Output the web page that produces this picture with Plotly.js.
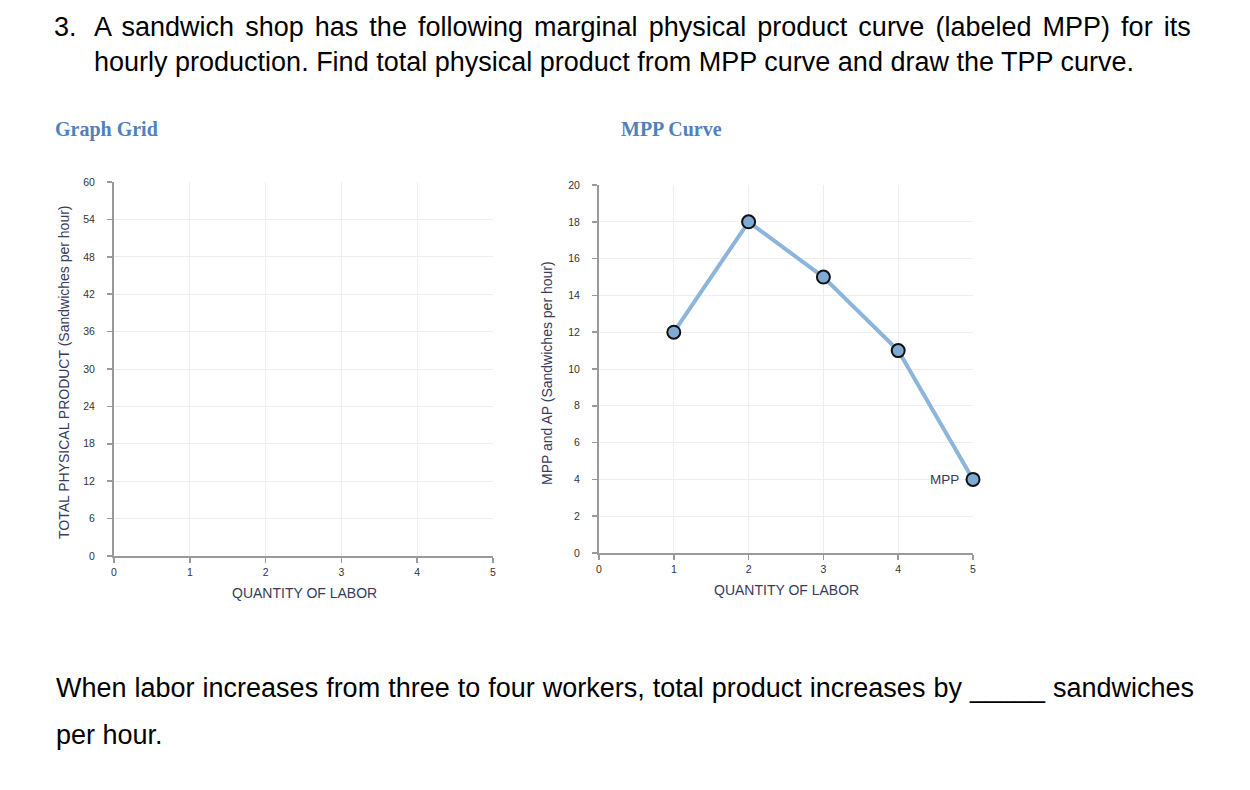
<!DOCTYPE html>
<html>
<head>
<meta charset="utf-8">
<script src="https://cdn.plot.ly/plotly-3.0.1.min.js"></script>
<style>
html,body{margin:0;padding:0;background:#fff;}
#chart{width:1250px;height:790px;}
.annotation[data-index="1"] text{word-spacing:3.55px;}
.annotation[data-index="3"] text{word-spacing:0.5px;}
</style>
</head>
<body>
<div id="chart"></div>
<script>
// Data
const labor = [1, 2, 3, 4, 5];
const mpp = [12, 18, 15, 11, 4];
const leftYTicks = [0, 6, 12, 18, 24, 30, 36, 42, 48, 54, 60];
const rightYTicks = [0, 2, 4, 6, 8, 10, 12, 14, 16, 18, 20];
const xTicks = [0, 1, 2, 3, 4, 5];
const seriesName = "MPP";

const axisCommon = {
  showline: true, linecolor: '#9a9a9a', linewidth: 2,
  ticks: 'outside', ticklen: 5, tickcolor: '#9a9a9a', tickwidth: 1.5,
  showgrid: true, gridcolor: '#eeeeee', gridwidth: 1,
  zeroline: false, tickfont: {family: 'Arial, Liberation Sans', size: 10.5, color: '#333'},
  fixedrange: true
};

const traces = [
  {
    x: [], y: [], xaxis: 'x', yaxis: 'y', type: 'scatter', mode: 'lines',
    showlegend: false, hoverinfo: 'skip'
  },
  {
    x: labor, y: mpp, xaxis: 'x2', yaxis: 'y2', type: 'scatter', mode: 'lines+markers',
    name: seriesName, showlegend: false, cliponaxis: false,
    line: {color: '#8db5dc', width: 4},
    marker: {size: 13, color: '#7faad6', line: {color: '#111', width: 2}}
  }
];

const textFont = {family: 'Arial, Liberation Sans, sans-serif', size: 27, color: '#000'};
const labFont = {family: 'Arial, Liberation Sans', size: 14, color: '#3a3a5a'};
const layout = {
  width: 1250, height: 790,
  margin: {l: 0, r: 0, t: 0, b: 0},
  paper_bgcolor: '#fff', plot_bgcolor: '#fff',
  showlegend: false,
  xaxis: Object.assign({}, axisCommon, {domain: [0.0912, 0.3944], range: [0, 5], tickvals: xTicks, ticktext: xTicks.map(String), anchor: 'y'}),
  yaxis: Object.assign({}, axisCommon, {domain: [0.2962, 0.7696], range: [0, 60], tickvals: leftYTicks, ticktext: leftYTicks.map(String), anchor: 'x', ticklabelstandoff: 10}),
  xaxis2: Object.assign({}, axisCommon, {domain: [0.4792, 0.7784], range: [0, 5], tickvals: xTicks, ticktext: xTicks.map(String), anchor: 'y2'}),
  yaxis2: Object.assign({}, axisCommon, {domain: [0.3000, 0.7658], range: [0, 20], tickvals: rightYTicks, ticktext: rightYTicks.map(String), anchor: 'x2', ticklabelstandoff: 10}),
  annotations: [
    {xref: 'paper', yref: 'paper', x: 52/1250, y: 1-27/790, xanchor: 'left', yanchor: 'middle', align: 'left', showarrow: false,
     text: '3.', font: textFont},
    {xref: 'paper', yref: 'paper', x: 92/1250, y: 1-27/790, xanchor: 'left', yanchor: 'middle', align: 'left', showarrow: false,
     text: 'A sandwich shop has the following marginal physical product curve (labeled MPP) for its', font: textFont},
    {xref: 'paper', yref: 'paper', x: 92/1250, y: 1-62/790, xanchor: 'left', yanchor: 'middle', align: 'left', showarrow: false,
     text: 'hourly production. Find total physical product from MPP curve and draw the TPP curve.', font: textFont},
    {xref: 'paper', yref: 'paper', x: 54/1250, y: 1-688/790, xanchor: 'left', yanchor: 'middle', align: 'left', showarrow: false,
     text: 'When labor increases from three to four workers, total product increases by _____ sandwiches', font: textFont},
    {xref: 'paper', yref: 'paper', x: 54/1250, y: 1-735/790, xanchor: 'left', yanchor: 'middle', align: 'left', showarrow: false,
     text: 'per hour.', font: textFont},
    {xref: 'paper', yref: 'paper', x: 53/1250, y: 1-129/790, xanchor: 'left', yanchor: 'middle', showarrow: false,
     text: '<b>Graph Grid</b>', font: {family: 'Liberation Serif, Times New Roman, serif', size: 20, color: '#4f81bd'}},
    {xref: 'paper', yref: 'paper', x: 619/1250, y: 1-129/790, xanchor: 'left', yanchor: 'middle', showarrow: false,
     text: '<b>MPP Curve</b>', font: {family: 'Liberation Serif, Times New Roman, serif', size: 20, color: '#4f81bd'}},
    {xref: 'paper', yref: 'paper', x: 64/1250, y: 1-372/790, xanchor: 'center', yanchor: 'middle', showarrow: false, textangle: -90,
     text: 'TOTAL PHYSICAL PRODUCT (Sandwiches per hour)', font: labFont},
    {xref: 'paper', yref: 'paper', x: 547/1250, y: 1-373/790, xanchor: 'center', yanchor: 'middle', showarrow: false, textangle: -90,
     text: 'MPP and AP (Sandwiches per hour)', font: labFont},
    {xref: 'paper', yref: 'paper', x: 304/1250, y: 1-593/790, xanchor: 'center', yanchor: 'middle', showarrow: false,
     text: 'QUANTITY OF LABOR', font: labFont},
    {xref: 'paper', yref: 'paper', x: 786/1250, y: 1-590/790, xanchor: 'center', yanchor: 'middle', showarrow: false,
     text: 'QUANTITY OF LABOR', font: labFont},
    {xref: 'x2', yref: 'y2', x: labor[labor.length-1], y: mpp[mpp.length-1], xanchor: 'right', yanchor: 'middle', xshift: -12, showarrow: false,
     text: seriesName, font: {family: 'Arial, Liberation Sans', size: 13.5, color: '#3a3a5a'}}
  ]
};

Plotly.newPlot('chart', traces, layout, {displayModeBar: false, staticPlot: true});
</script>
</body>
</html>
